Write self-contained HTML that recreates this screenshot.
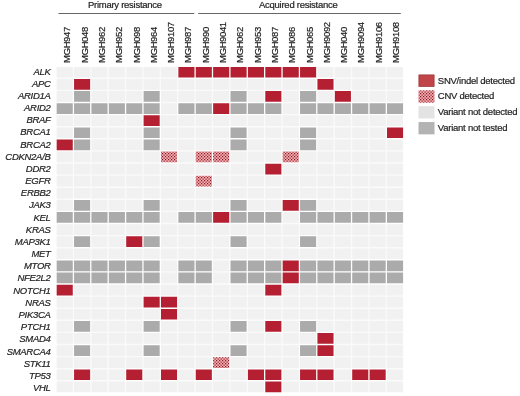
<!DOCTYPE html><html><head><meta charset="utf-8"><title>Figure</title><style>html,body{margin:0;padding:0;background:#fff}svg{display:block}text{font-family:"Liberation Sans",Arial,Helvetica,sans-serif;fill:#1e1e1e;letter-spacing:-0.24px;stroke:#1e1e1e;stroke-width:0.2}</style></head><body>
<svg width="520" height="396" viewBox="0 0 520 396">
<defs><pattern id="chk" width="3" height="3" patternUnits="userSpaceOnUse"><rect width="3" height="3" fill="#f6aeb0"/><g fill="#861a28"><rect x="0" y="0" width="1.22" height="1.22"/><rect x="1.5" y="1.5" width="1.22" height="1.22"/></g></pattern></defs>
<rect width="520" height="396" fill="#fff"/>
<rect x="56.67" y="66.90" width="346.40" height="325.30" fill="#fafafa"/>
<path d="M177.06 65.50h18.69v13.50h-18.69zM194.45 65.50h18.69v13.50h-18.69zM211.84 65.50h18.69v13.50h-18.69zM229.22 65.50h18.69v13.50h-18.69zM246.61 65.50h18.69v13.50h-18.69zM263.99 65.50h18.69v13.50h-18.69zM281.38 65.50h18.69v13.50h-18.69zM298.76 65.50h18.69v13.50h-18.69zM72.75 77.60h18.69v13.50h-18.69zM316.15 77.60h18.69v13.50h-18.69zM72.75 89.70h18.69v13.50h-18.69zM142.30 89.70h18.69v13.50h-18.69zM229.22 89.70h18.69v13.50h-18.69zM263.99 89.70h18.69v13.50h-18.69zM298.76 89.70h18.69v13.50h-18.69zM333.53 89.70h18.69v13.50h-18.69zM55.37 101.80h18.69v13.50h-18.69zM72.75 101.80h18.69v13.50h-18.69zM90.14 101.80h18.69v13.50h-18.69zM107.53 101.80h18.69v13.50h-18.69zM124.91 101.80h18.69v13.50h-18.69zM142.30 101.80h18.69v13.50h-18.69zM177.06 101.80h18.69v13.50h-18.69zM194.45 101.80h18.69v13.50h-18.69zM211.84 101.80h18.69v13.50h-18.69zM229.22 101.80h18.69v13.50h-18.69zM246.61 101.80h18.69v13.50h-18.69zM263.99 101.80h18.69v13.50h-18.69zM298.76 101.80h18.69v13.50h-18.69zM316.15 101.80h18.69v13.50h-18.69zM333.53 101.80h18.69v13.50h-18.69zM350.92 101.80h18.69v13.50h-18.69zM368.30 101.80h18.69v13.50h-18.69zM385.69 101.80h18.69v13.50h-18.69zM142.30 113.90h18.69v13.50h-18.69zM72.75 126.00h18.69v13.50h-18.69zM142.30 126.00h18.69v13.50h-18.69zM229.22 126.00h18.69v13.50h-18.69zM298.76 126.00h18.69v13.50h-18.69zM385.69 126.00h18.69v13.50h-18.69zM55.37 138.10h18.69v13.50h-18.69zM72.75 138.10h18.69v13.50h-18.69zM142.30 138.10h18.69v13.50h-18.69zM229.22 138.10h18.69v13.50h-18.69zM298.76 138.10h18.69v13.50h-18.69zM159.68 150.20h18.69v13.50h-18.69zM194.45 150.20h18.69v13.50h-18.69zM211.84 150.20h18.69v13.50h-18.69zM281.38 150.20h18.69v13.50h-18.69zM263.99 162.30h18.69v13.50h-18.69zM194.45 174.40h18.69v13.50h-18.69zM72.75 198.60h18.69v13.50h-18.69zM142.30 198.60h18.69v13.50h-18.69zM229.22 198.60h18.69v13.50h-18.69zM281.38 198.60h18.69v13.50h-18.69zM298.76 198.60h18.69v13.50h-18.69zM55.37 210.70h18.69v13.50h-18.69zM72.75 210.70h18.69v13.50h-18.69zM90.14 210.70h18.69v13.50h-18.69zM107.53 210.70h18.69v13.50h-18.69zM124.91 210.70h18.69v13.50h-18.69zM142.30 210.70h18.69v13.50h-18.69zM177.06 210.70h18.69v13.50h-18.69zM194.45 210.70h18.69v13.50h-18.69zM211.84 210.70h18.69v13.50h-18.69zM229.22 210.70h18.69v13.50h-18.69zM246.61 210.70h18.69v13.50h-18.69zM263.99 210.70h18.69v13.50h-18.69zM298.76 210.70h18.69v13.50h-18.69zM316.15 210.70h18.69v13.50h-18.69zM333.53 210.70h18.69v13.50h-18.69zM350.92 210.70h18.69v13.50h-18.69zM368.30 210.70h18.69v13.50h-18.69zM385.69 210.70h18.69v13.50h-18.69zM72.75 234.90h18.69v13.50h-18.69zM124.91 234.90h18.69v13.50h-18.69zM142.30 234.90h18.69v13.50h-18.69zM229.22 234.90h18.69v13.50h-18.69zM298.76 234.90h18.69v13.50h-18.69zM55.37 259.10h18.69v13.50h-18.69zM72.75 259.10h18.69v13.50h-18.69zM90.14 259.10h18.69v13.50h-18.69zM107.53 259.10h18.69v13.50h-18.69zM124.91 259.10h18.69v13.50h-18.69zM142.30 259.10h18.69v13.50h-18.69zM177.06 259.10h18.69v13.50h-18.69zM194.45 259.10h18.69v13.50h-18.69zM229.22 259.10h18.69v13.50h-18.69zM246.61 259.10h18.69v13.50h-18.69zM263.99 259.10h18.69v13.50h-18.69zM281.38 259.10h18.69v13.50h-18.69zM298.76 259.10h18.69v13.50h-18.69zM316.15 259.10h18.69v13.50h-18.69zM333.53 259.10h18.69v13.50h-18.69zM350.92 259.10h18.69v13.50h-18.69zM368.30 259.10h18.69v13.50h-18.69zM385.69 259.10h18.69v13.50h-18.69zM55.37 271.20h18.69v13.50h-18.69zM72.75 271.20h18.69v13.50h-18.69zM90.14 271.20h18.69v13.50h-18.69zM107.53 271.20h18.69v13.50h-18.69zM124.91 271.20h18.69v13.50h-18.69zM142.30 271.20h18.69v13.50h-18.69zM177.06 271.20h18.69v13.50h-18.69zM194.45 271.20h18.69v13.50h-18.69zM229.22 271.20h18.69v13.50h-18.69zM246.61 271.20h18.69v13.50h-18.69zM263.99 271.20h18.69v13.50h-18.69zM281.38 271.20h18.69v13.50h-18.69zM298.76 271.20h18.69v13.50h-18.69zM316.15 271.20h18.69v13.50h-18.69zM333.53 271.20h18.69v13.50h-18.69zM350.92 271.20h18.69v13.50h-18.69zM368.30 271.20h18.69v13.50h-18.69zM385.69 271.20h18.69v13.50h-18.69zM55.37 283.30h18.69v13.50h-18.69zM263.99 283.30h18.69v13.50h-18.69zM142.30 295.40h18.69v13.50h-18.69zM159.68 295.40h18.69v13.50h-18.69zM159.68 307.50h18.69v13.50h-18.69zM72.75 319.60h18.69v13.50h-18.69zM142.30 319.60h18.69v13.50h-18.69zM229.22 319.60h18.69v13.50h-18.69zM263.99 319.60h18.69v13.50h-18.69zM298.76 319.60h18.69v13.50h-18.69zM316.15 331.70h18.69v13.50h-18.69zM72.75 343.80h18.69v13.50h-18.69zM142.30 343.80h18.69v13.50h-18.69zM229.22 343.80h18.69v13.50h-18.69zM298.76 343.80h18.69v13.50h-18.69zM316.15 343.80h18.69v13.50h-18.69zM211.84 355.90h18.69v13.50h-18.69zM72.75 368.00h18.69v13.50h-18.69zM124.91 368.00h18.69v13.50h-18.69zM159.68 368.00h18.69v13.50h-18.69zM194.45 368.00h18.69v13.50h-18.69zM246.61 368.00h18.69v13.50h-18.69zM263.99 368.00h18.69v13.50h-18.69zM298.76 368.00h18.69v13.50h-18.69zM316.15 368.00h18.69v13.50h-18.69zM350.92 368.00h18.69v13.50h-18.69zM368.30 368.00h18.69v13.50h-18.69zM263.99 380.10h18.69v13.50h-18.69z" fill="#fff"/>
<path d="M56.67 66.90h16.09v10.70h-16.09zM74.06 66.90h16.09v10.70h-16.09zM91.44 66.90h16.09v10.70h-16.09zM108.83 66.90h16.09v10.70h-16.09zM126.21 66.90h16.09v10.70h-16.09zM143.60 66.90h16.09v10.70h-16.09zM160.98 66.90h16.09v10.70h-16.09zM317.44 66.90h16.09v10.70h-16.09zM334.83 66.90h16.09v10.70h-16.09zM352.21 66.90h16.09v10.70h-16.09zM369.60 66.90h16.09v10.70h-16.09zM386.99 66.90h16.09v10.70h-16.09zM56.67 79.00h16.09v10.70h-16.09zM91.44 79.00h16.09v10.70h-16.09zM108.83 79.00h16.09v10.70h-16.09zM126.21 79.00h16.09v10.70h-16.09zM143.60 79.00h16.09v10.70h-16.09zM160.98 79.00h16.09v10.70h-16.09zM178.37 79.00h16.09v10.70h-16.09zM195.75 79.00h16.09v10.70h-16.09zM213.14 79.00h16.09v10.70h-16.09zM230.52 79.00h16.09v10.70h-16.09zM247.91 79.00h16.09v10.70h-16.09zM265.29 79.00h16.09v10.70h-16.09zM282.68 79.00h16.09v10.70h-16.09zM300.06 79.00h16.09v10.70h-16.09zM334.83 79.00h16.09v10.70h-16.09zM352.21 79.00h16.09v10.70h-16.09zM369.60 79.00h16.09v10.70h-16.09zM386.99 79.00h16.09v10.70h-16.09zM56.67 91.10h16.09v10.70h-16.09zM91.44 91.10h16.09v10.70h-16.09zM108.83 91.10h16.09v10.70h-16.09zM126.21 91.10h16.09v10.70h-16.09zM160.98 91.10h16.09v10.70h-16.09zM178.37 91.10h16.09v10.70h-16.09zM195.75 91.10h16.09v10.70h-16.09zM213.14 91.10h16.09v10.70h-16.09zM247.91 91.10h16.09v10.70h-16.09zM282.68 91.10h16.09v10.70h-16.09zM317.44 91.10h16.09v10.70h-16.09zM352.21 91.10h16.09v10.70h-16.09zM369.60 91.10h16.09v10.70h-16.09zM386.99 91.10h16.09v10.70h-16.09zM160.98 103.20h16.09v10.70h-16.09zM282.68 103.20h16.09v10.70h-16.09zM56.67 115.30h16.09v10.70h-16.09zM74.06 115.30h16.09v10.70h-16.09zM91.44 115.30h16.09v10.70h-16.09zM108.83 115.30h16.09v10.70h-16.09zM126.21 115.30h16.09v10.70h-16.09zM160.98 115.30h16.09v10.70h-16.09zM178.37 115.30h16.09v10.70h-16.09zM195.75 115.30h16.09v10.70h-16.09zM213.14 115.30h16.09v10.70h-16.09zM230.52 115.30h16.09v10.70h-16.09zM247.91 115.30h16.09v10.70h-16.09zM265.29 115.30h16.09v10.70h-16.09zM282.68 115.30h16.09v10.70h-16.09zM300.06 115.30h16.09v10.70h-16.09zM317.44 115.30h16.09v10.70h-16.09zM334.83 115.30h16.09v10.70h-16.09zM352.21 115.30h16.09v10.70h-16.09zM369.60 115.30h16.09v10.70h-16.09zM386.99 115.30h16.09v10.70h-16.09zM56.67 127.40h16.09v10.70h-16.09zM91.44 127.40h16.09v10.70h-16.09zM108.83 127.40h16.09v10.70h-16.09zM126.21 127.40h16.09v10.70h-16.09zM160.98 127.40h16.09v10.70h-16.09zM178.37 127.40h16.09v10.70h-16.09zM195.75 127.40h16.09v10.70h-16.09zM213.14 127.40h16.09v10.70h-16.09zM247.91 127.40h16.09v10.70h-16.09zM265.29 127.40h16.09v10.70h-16.09zM282.68 127.40h16.09v10.70h-16.09zM317.44 127.40h16.09v10.70h-16.09zM334.83 127.40h16.09v10.70h-16.09zM352.21 127.40h16.09v10.70h-16.09zM369.60 127.40h16.09v10.70h-16.09zM91.44 139.50h16.09v10.70h-16.09zM108.83 139.50h16.09v10.70h-16.09zM126.21 139.50h16.09v10.70h-16.09zM160.98 139.50h16.09v10.70h-16.09zM178.37 139.50h16.09v10.70h-16.09zM195.75 139.50h16.09v10.70h-16.09zM213.14 139.50h16.09v10.70h-16.09zM247.91 139.50h16.09v10.70h-16.09zM265.29 139.50h16.09v10.70h-16.09zM282.68 139.50h16.09v10.70h-16.09zM317.44 139.50h16.09v10.70h-16.09zM334.83 139.50h16.09v10.70h-16.09zM352.21 139.50h16.09v10.70h-16.09zM369.60 139.50h16.09v10.70h-16.09zM386.99 139.50h16.09v10.70h-16.09zM56.67 151.60h16.09v10.70h-16.09zM74.06 151.60h16.09v10.70h-16.09zM91.44 151.60h16.09v10.70h-16.09zM108.83 151.60h16.09v10.70h-16.09zM126.21 151.60h16.09v10.70h-16.09zM143.60 151.60h16.09v10.70h-16.09zM178.37 151.60h16.09v10.70h-16.09zM230.52 151.60h16.09v10.70h-16.09zM247.91 151.60h16.09v10.70h-16.09zM265.29 151.60h16.09v10.70h-16.09zM300.06 151.60h16.09v10.70h-16.09zM317.44 151.60h16.09v10.70h-16.09zM334.83 151.60h16.09v10.70h-16.09zM352.21 151.60h16.09v10.70h-16.09zM369.60 151.60h16.09v10.70h-16.09zM386.99 151.60h16.09v10.70h-16.09zM56.67 163.70h16.09v10.70h-16.09zM74.06 163.70h16.09v10.70h-16.09zM91.44 163.70h16.09v10.70h-16.09zM108.83 163.70h16.09v10.70h-16.09zM126.21 163.70h16.09v10.70h-16.09zM143.60 163.70h16.09v10.70h-16.09zM160.98 163.70h16.09v10.70h-16.09zM178.37 163.70h16.09v10.70h-16.09zM195.75 163.70h16.09v10.70h-16.09zM213.14 163.70h16.09v10.70h-16.09zM230.52 163.70h16.09v10.70h-16.09zM247.91 163.70h16.09v10.70h-16.09zM282.68 163.70h16.09v10.70h-16.09zM300.06 163.70h16.09v10.70h-16.09zM317.44 163.70h16.09v10.70h-16.09zM334.83 163.70h16.09v10.70h-16.09zM352.21 163.70h16.09v10.70h-16.09zM369.60 163.70h16.09v10.70h-16.09zM386.99 163.70h16.09v10.70h-16.09zM56.67 175.80h16.09v10.70h-16.09zM74.06 175.80h16.09v10.70h-16.09zM91.44 175.80h16.09v10.70h-16.09zM108.83 175.80h16.09v10.70h-16.09zM126.21 175.80h16.09v10.70h-16.09zM143.60 175.80h16.09v10.70h-16.09zM160.98 175.80h16.09v10.70h-16.09zM178.37 175.80h16.09v10.70h-16.09zM213.14 175.80h16.09v10.70h-16.09zM230.52 175.80h16.09v10.70h-16.09zM247.91 175.80h16.09v10.70h-16.09zM265.29 175.80h16.09v10.70h-16.09zM282.68 175.80h16.09v10.70h-16.09zM300.06 175.80h16.09v10.70h-16.09zM317.44 175.80h16.09v10.70h-16.09zM334.83 175.80h16.09v10.70h-16.09zM352.21 175.80h16.09v10.70h-16.09zM369.60 175.80h16.09v10.70h-16.09zM386.99 175.80h16.09v10.70h-16.09zM56.67 187.90h16.09v10.70h-16.09zM74.06 187.90h16.09v10.70h-16.09zM91.44 187.90h16.09v10.70h-16.09zM108.83 187.90h16.09v10.70h-16.09zM126.21 187.90h16.09v10.70h-16.09zM143.60 187.90h16.09v10.70h-16.09zM160.98 187.90h16.09v10.70h-16.09zM178.37 187.90h16.09v10.70h-16.09zM195.75 187.90h16.09v10.70h-16.09zM213.14 187.90h16.09v10.70h-16.09zM230.52 187.90h16.09v10.70h-16.09zM247.91 187.90h16.09v10.70h-16.09zM265.29 187.90h16.09v10.70h-16.09zM282.68 187.90h16.09v10.70h-16.09zM300.06 187.90h16.09v10.70h-16.09zM317.44 187.90h16.09v10.70h-16.09zM334.83 187.90h16.09v10.70h-16.09zM352.21 187.90h16.09v10.70h-16.09zM369.60 187.90h16.09v10.70h-16.09zM386.99 187.90h16.09v10.70h-16.09zM56.67 200.00h16.09v10.70h-16.09zM91.44 200.00h16.09v10.70h-16.09zM108.83 200.00h16.09v10.70h-16.09zM126.21 200.00h16.09v10.70h-16.09zM160.98 200.00h16.09v10.70h-16.09zM178.37 200.00h16.09v10.70h-16.09zM195.75 200.00h16.09v10.70h-16.09zM213.14 200.00h16.09v10.70h-16.09zM247.91 200.00h16.09v10.70h-16.09zM265.29 200.00h16.09v10.70h-16.09zM317.44 200.00h16.09v10.70h-16.09zM334.83 200.00h16.09v10.70h-16.09zM352.21 200.00h16.09v10.70h-16.09zM369.60 200.00h16.09v10.70h-16.09zM386.99 200.00h16.09v10.70h-16.09zM160.98 212.10h16.09v10.70h-16.09zM282.68 212.10h16.09v10.70h-16.09zM56.67 224.20h16.09v10.70h-16.09zM74.06 224.20h16.09v10.70h-16.09zM91.44 224.20h16.09v10.70h-16.09zM108.83 224.20h16.09v10.70h-16.09zM126.21 224.20h16.09v10.70h-16.09zM143.60 224.20h16.09v10.70h-16.09zM160.98 224.20h16.09v10.70h-16.09zM178.37 224.20h16.09v10.70h-16.09zM195.75 224.20h16.09v10.70h-16.09zM213.14 224.20h16.09v10.70h-16.09zM230.52 224.20h16.09v10.70h-16.09zM247.91 224.20h16.09v10.70h-16.09zM265.29 224.20h16.09v10.70h-16.09zM282.68 224.20h16.09v10.70h-16.09zM300.06 224.20h16.09v10.70h-16.09zM317.44 224.20h16.09v10.70h-16.09zM334.83 224.20h16.09v10.70h-16.09zM352.21 224.20h16.09v10.70h-16.09zM369.60 224.20h16.09v10.70h-16.09zM386.99 224.20h16.09v10.70h-16.09zM56.67 236.30h16.09v10.70h-16.09zM91.44 236.30h16.09v10.70h-16.09zM108.83 236.30h16.09v10.70h-16.09zM160.98 236.30h16.09v10.70h-16.09zM178.37 236.30h16.09v10.70h-16.09zM195.75 236.30h16.09v10.70h-16.09zM213.14 236.30h16.09v10.70h-16.09zM247.91 236.30h16.09v10.70h-16.09zM265.29 236.30h16.09v10.70h-16.09zM282.68 236.30h16.09v10.70h-16.09zM317.44 236.30h16.09v10.70h-16.09zM334.83 236.30h16.09v10.70h-16.09zM352.21 236.30h16.09v10.70h-16.09zM369.60 236.30h16.09v10.70h-16.09zM386.99 236.30h16.09v10.70h-16.09zM56.67 248.40h16.09v10.70h-16.09zM74.06 248.40h16.09v10.70h-16.09zM91.44 248.40h16.09v10.70h-16.09zM108.83 248.40h16.09v10.70h-16.09zM126.21 248.40h16.09v10.70h-16.09zM143.60 248.40h16.09v10.70h-16.09zM160.98 248.40h16.09v10.70h-16.09zM178.37 248.40h16.09v10.70h-16.09zM195.75 248.40h16.09v10.70h-16.09zM213.14 248.40h16.09v10.70h-16.09zM230.52 248.40h16.09v10.70h-16.09zM247.91 248.40h16.09v10.70h-16.09zM265.29 248.40h16.09v10.70h-16.09zM282.68 248.40h16.09v10.70h-16.09zM300.06 248.40h16.09v10.70h-16.09zM317.44 248.40h16.09v10.70h-16.09zM334.83 248.40h16.09v10.70h-16.09zM352.21 248.40h16.09v10.70h-16.09zM369.60 248.40h16.09v10.70h-16.09zM386.99 248.40h16.09v10.70h-16.09zM160.98 260.50h16.09v10.70h-16.09zM213.14 260.50h16.09v10.70h-16.09zM160.98 272.60h16.09v10.70h-16.09zM213.14 272.60h16.09v10.70h-16.09zM74.06 284.70h16.09v10.70h-16.09zM91.44 284.70h16.09v10.70h-16.09zM108.83 284.70h16.09v10.70h-16.09zM126.21 284.70h16.09v10.70h-16.09zM143.60 284.70h16.09v10.70h-16.09zM160.98 284.70h16.09v10.70h-16.09zM178.37 284.70h16.09v10.70h-16.09zM195.75 284.70h16.09v10.70h-16.09zM213.14 284.70h16.09v10.70h-16.09zM230.52 284.70h16.09v10.70h-16.09zM247.91 284.70h16.09v10.70h-16.09zM282.68 284.70h16.09v10.70h-16.09zM300.06 284.70h16.09v10.70h-16.09zM317.44 284.70h16.09v10.70h-16.09zM334.83 284.70h16.09v10.70h-16.09zM352.21 284.70h16.09v10.70h-16.09zM369.60 284.70h16.09v10.70h-16.09zM386.99 284.70h16.09v10.70h-16.09zM56.67 296.80h16.09v10.70h-16.09zM74.06 296.80h16.09v10.70h-16.09zM91.44 296.80h16.09v10.70h-16.09zM108.83 296.80h16.09v10.70h-16.09zM126.21 296.80h16.09v10.70h-16.09zM178.37 296.80h16.09v10.70h-16.09zM195.75 296.80h16.09v10.70h-16.09zM213.14 296.80h16.09v10.70h-16.09zM230.52 296.80h16.09v10.70h-16.09zM247.91 296.80h16.09v10.70h-16.09zM265.29 296.80h16.09v10.70h-16.09zM282.68 296.80h16.09v10.70h-16.09zM300.06 296.80h16.09v10.70h-16.09zM317.44 296.80h16.09v10.70h-16.09zM334.83 296.80h16.09v10.70h-16.09zM352.21 296.80h16.09v10.70h-16.09zM369.60 296.80h16.09v10.70h-16.09zM386.99 296.80h16.09v10.70h-16.09zM56.67 308.90h16.09v10.70h-16.09zM74.06 308.90h16.09v10.70h-16.09zM91.44 308.90h16.09v10.70h-16.09zM108.83 308.90h16.09v10.70h-16.09zM126.21 308.90h16.09v10.70h-16.09zM143.60 308.90h16.09v10.70h-16.09zM178.37 308.90h16.09v10.70h-16.09zM195.75 308.90h16.09v10.70h-16.09zM213.14 308.90h16.09v10.70h-16.09zM230.52 308.90h16.09v10.70h-16.09zM247.91 308.90h16.09v10.70h-16.09zM265.29 308.90h16.09v10.70h-16.09zM282.68 308.90h16.09v10.70h-16.09zM300.06 308.90h16.09v10.70h-16.09zM317.44 308.90h16.09v10.70h-16.09zM334.83 308.90h16.09v10.70h-16.09zM352.21 308.90h16.09v10.70h-16.09zM369.60 308.90h16.09v10.70h-16.09zM386.99 308.90h16.09v10.70h-16.09zM56.67 321.00h16.09v10.70h-16.09zM91.44 321.00h16.09v10.70h-16.09zM108.83 321.00h16.09v10.70h-16.09zM126.21 321.00h16.09v10.70h-16.09zM160.98 321.00h16.09v10.70h-16.09zM178.37 321.00h16.09v10.70h-16.09zM195.75 321.00h16.09v10.70h-16.09zM213.14 321.00h16.09v10.70h-16.09zM247.91 321.00h16.09v10.70h-16.09zM282.68 321.00h16.09v10.70h-16.09zM317.44 321.00h16.09v10.70h-16.09zM334.83 321.00h16.09v10.70h-16.09zM352.21 321.00h16.09v10.70h-16.09zM369.60 321.00h16.09v10.70h-16.09zM386.99 321.00h16.09v10.70h-16.09zM56.67 333.10h16.09v10.70h-16.09zM74.06 333.10h16.09v10.70h-16.09zM91.44 333.10h16.09v10.70h-16.09zM108.83 333.10h16.09v10.70h-16.09zM126.21 333.10h16.09v10.70h-16.09zM143.60 333.10h16.09v10.70h-16.09zM160.98 333.10h16.09v10.70h-16.09zM178.37 333.10h16.09v10.70h-16.09zM195.75 333.10h16.09v10.70h-16.09zM213.14 333.10h16.09v10.70h-16.09zM230.52 333.10h16.09v10.70h-16.09zM247.91 333.10h16.09v10.70h-16.09zM265.29 333.10h16.09v10.70h-16.09zM282.68 333.10h16.09v10.70h-16.09zM300.06 333.10h16.09v10.70h-16.09zM334.83 333.10h16.09v10.70h-16.09zM352.21 333.10h16.09v10.70h-16.09zM369.60 333.10h16.09v10.70h-16.09zM386.99 333.10h16.09v10.70h-16.09zM56.67 345.20h16.09v10.70h-16.09zM91.44 345.20h16.09v10.70h-16.09zM108.83 345.20h16.09v10.70h-16.09zM126.21 345.20h16.09v10.70h-16.09zM160.98 345.20h16.09v10.70h-16.09zM178.37 345.20h16.09v10.70h-16.09zM195.75 345.20h16.09v10.70h-16.09zM213.14 345.20h16.09v10.70h-16.09zM247.91 345.20h16.09v10.70h-16.09zM265.29 345.20h16.09v10.70h-16.09zM282.68 345.20h16.09v10.70h-16.09zM334.83 345.20h16.09v10.70h-16.09zM352.21 345.20h16.09v10.70h-16.09zM369.60 345.20h16.09v10.70h-16.09zM386.99 345.20h16.09v10.70h-16.09zM56.67 357.30h16.09v10.70h-16.09zM74.06 357.30h16.09v10.70h-16.09zM91.44 357.30h16.09v10.70h-16.09zM108.83 357.30h16.09v10.70h-16.09zM126.21 357.30h16.09v10.70h-16.09zM143.60 357.30h16.09v10.70h-16.09zM160.98 357.30h16.09v10.70h-16.09zM178.37 357.30h16.09v10.70h-16.09zM195.75 357.30h16.09v10.70h-16.09zM230.52 357.30h16.09v10.70h-16.09zM247.91 357.30h16.09v10.70h-16.09zM265.29 357.30h16.09v10.70h-16.09zM282.68 357.30h16.09v10.70h-16.09zM300.06 357.30h16.09v10.70h-16.09zM317.44 357.30h16.09v10.70h-16.09zM334.83 357.30h16.09v10.70h-16.09zM352.21 357.30h16.09v10.70h-16.09zM369.60 357.30h16.09v10.70h-16.09zM386.99 357.30h16.09v10.70h-16.09zM56.67 369.40h16.09v10.70h-16.09zM91.44 369.40h16.09v10.70h-16.09zM108.83 369.40h16.09v10.70h-16.09zM143.60 369.40h16.09v10.70h-16.09zM178.37 369.40h16.09v10.70h-16.09zM213.14 369.40h16.09v10.70h-16.09zM230.52 369.40h16.09v10.70h-16.09zM282.68 369.40h16.09v10.70h-16.09zM334.83 369.40h16.09v10.70h-16.09zM386.99 369.40h16.09v10.70h-16.09zM56.67 381.50h16.09v10.70h-16.09zM74.06 381.50h16.09v10.70h-16.09zM91.44 381.50h16.09v10.70h-16.09zM108.83 381.50h16.09v10.70h-16.09zM126.21 381.50h16.09v10.70h-16.09zM143.60 381.50h16.09v10.70h-16.09zM160.98 381.50h16.09v10.70h-16.09zM178.37 381.50h16.09v10.70h-16.09zM195.75 381.50h16.09v10.70h-16.09zM213.14 381.50h16.09v10.70h-16.09zM230.52 381.50h16.09v10.70h-16.09zM247.91 381.50h16.09v10.70h-16.09zM282.68 381.50h16.09v10.70h-16.09zM300.06 381.50h16.09v10.70h-16.09zM317.44 381.50h16.09v10.70h-16.09zM334.83 381.50h16.09v10.70h-16.09zM352.21 381.50h16.09v10.70h-16.09zM369.60 381.50h16.09v10.70h-16.09zM386.99 381.50h16.09v10.70h-16.09z" fill="#f1f1f1"/>
<path d="M74.06 91.10h16.09v10.70h-16.09zM143.60 91.10h16.09v10.70h-16.09zM230.52 91.10h16.09v10.70h-16.09zM300.06 91.10h16.09v10.70h-16.09zM56.67 103.20h16.09v10.70h-16.09zM74.06 103.20h16.09v10.70h-16.09zM91.44 103.20h16.09v10.70h-16.09zM108.83 103.20h16.09v10.70h-16.09zM126.21 103.20h16.09v10.70h-16.09zM143.60 103.20h16.09v10.70h-16.09zM178.37 103.20h16.09v10.70h-16.09zM195.75 103.20h16.09v10.70h-16.09zM230.52 103.20h16.09v10.70h-16.09zM247.91 103.20h16.09v10.70h-16.09zM265.29 103.20h16.09v10.70h-16.09zM300.06 103.20h16.09v10.70h-16.09zM317.44 103.20h16.09v10.70h-16.09zM334.83 103.20h16.09v10.70h-16.09zM352.21 103.20h16.09v10.70h-16.09zM369.60 103.20h16.09v10.70h-16.09zM386.99 103.20h16.09v10.70h-16.09zM74.06 127.40h16.09v10.70h-16.09zM143.60 127.40h16.09v10.70h-16.09zM230.52 127.40h16.09v10.70h-16.09zM300.06 127.40h16.09v10.70h-16.09zM74.06 139.50h16.09v10.70h-16.09zM143.60 139.50h16.09v10.70h-16.09zM230.52 139.50h16.09v10.70h-16.09zM300.06 139.50h16.09v10.70h-16.09zM74.06 200.00h16.09v10.70h-16.09zM143.60 200.00h16.09v10.70h-16.09zM230.52 200.00h16.09v10.70h-16.09zM300.06 200.00h16.09v10.70h-16.09zM56.67 212.10h16.09v10.70h-16.09zM74.06 212.10h16.09v10.70h-16.09zM91.44 212.10h16.09v10.70h-16.09zM108.83 212.10h16.09v10.70h-16.09zM126.21 212.10h16.09v10.70h-16.09zM143.60 212.10h16.09v10.70h-16.09zM178.37 212.10h16.09v10.70h-16.09zM195.75 212.10h16.09v10.70h-16.09zM230.52 212.10h16.09v10.70h-16.09zM247.91 212.10h16.09v10.70h-16.09zM265.29 212.10h16.09v10.70h-16.09zM300.06 212.10h16.09v10.70h-16.09zM317.44 212.10h16.09v10.70h-16.09zM334.83 212.10h16.09v10.70h-16.09zM352.21 212.10h16.09v10.70h-16.09zM369.60 212.10h16.09v10.70h-16.09zM386.99 212.10h16.09v10.70h-16.09zM74.06 236.30h16.09v10.70h-16.09zM143.60 236.30h16.09v10.70h-16.09zM230.52 236.30h16.09v10.70h-16.09zM300.06 236.30h16.09v10.70h-16.09zM56.67 260.50h16.09v10.70h-16.09zM74.06 260.50h16.09v10.70h-16.09zM91.44 260.50h16.09v10.70h-16.09zM108.83 260.50h16.09v10.70h-16.09zM126.21 260.50h16.09v10.70h-16.09zM143.60 260.50h16.09v10.70h-16.09zM178.37 260.50h16.09v10.70h-16.09zM195.75 260.50h16.09v10.70h-16.09zM230.52 260.50h16.09v10.70h-16.09zM247.91 260.50h16.09v10.70h-16.09zM265.29 260.50h16.09v10.70h-16.09zM300.06 260.50h16.09v10.70h-16.09zM317.44 260.50h16.09v10.70h-16.09zM334.83 260.50h16.09v10.70h-16.09zM352.21 260.50h16.09v10.70h-16.09zM369.60 260.50h16.09v10.70h-16.09zM386.99 260.50h16.09v10.70h-16.09zM56.67 272.60h16.09v10.70h-16.09zM74.06 272.60h16.09v10.70h-16.09zM91.44 272.60h16.09v10.70h-16.09zM108.83 272.60h16.09v10.70h-16.09zM126.21 272.60h16.09v10.70h-16.09zM143.60 272.60h16.09v10.70h-16.09zM178.37 272.60h16.09v10.70h-16.09zM195.75 272.60h16.09v10.70h-16.09zM230.52 272.60h16.09v10.70h-16.09zM247.91 272.60h16.09v10.70h-16.09zM265.29 272.60h16.09v10.70h-16.09zM300.06 272.60h16.09v10.70h-16.09zM317.44 272.60h16.09v10.70h-16.09zM334.83 272.60h16.09v10.70h-16.09zM352.21 272.60h16.09v10.70h-16.09zM369.60 272.60h16.09v10.70h-16.09zM386.99 272.60h16.09v10.70h-16.09zM74.06 321.00h16.09v10.70h-16.09zM143.60 321.00h16.09v10.70h-16.09zM230.52 321.00h16.09v10.70h-16.09zM300.06 321.00h16.09v10.70h-16.09zM74.06 345.20h16.09v10.70h-16.09zM143.60 345.20h16.09v10.70h-16.09zM230.52 345.20h16.09v10.70h-16.09zM300.06 345.20h16.09v10.70h-16.09z" fill="#ababab"/>
<path d="M178.37 66.90h16.09v10.70h-16.09zM195.75 66.90h16.09v10.70h-16.09zM213.14 66.90h16.09v10.70h-16.09zM230.52 66.90h16.09v10.70h-16.09zM247.91 66.90h16.09v10.70h-16.09zM265.29 66.90h16.09v10.70h-16.09zM282.68 66.90h16.09v10.70h-16.09zM300.06 66.90h16.09v10.70h-16.09zM74.06 79.00h16.09v10.70h-16.09zM317.44 79.00h16.09v10.70h-16.09zM265.29 91.10h16.09v10.70h-16.09zM334.83 91.10h16.09v10.70h-16.09zM213.14 103.20h16.09v10.70h-16.09zM143.60 115.30h16.09v10.70h-16.09zM386.99 127.40h16.09v10.70h-16.09zM56.67 139.50h16.09v10.70h-16.09zM265.29 163.70h16.09v10.70h-16.09zM282.68 200.00h16.09v10.70h-16.09zM213.14 212.10h16.09v10.70h-16.09zM126.21 236.30h16.09v10.70h-16.09zM282.68 260.50h16.09v10.70h-16.09zM282.68 272.60h16.09v10.70h-16.09zM56.67 284.70h16.09v10.70h-16.09zM265.29 284.70h16.09v10.70h-16.09zM143.60 296.80h16.09v10.70h-16.09zM160.98 296.80h16.09v10.70h-16.09zM160.98 308.90h16.09v10.70h-16.09zM265.29 321.00h16.09v10.70h-16.09zM317.44 333.10h16.09v10.70h-16.09zM317.44 345.20h16.09v10.70h-16.09zM74.06 369.40h16.09v10.70h-16.09zM126.21 369.40h16.09v10.70h-16.09zM160.98 369.40h16.09v10.70h-16.09zM195.75 369.40h16.09v10.70h-16.09zM247.91 369.40h16.09v10.70h-16.09zM265.29 369.40h16.09v10.70h-16.09zM300.06 369.40h16.09v10.70h-16.09zM317.44 369.40h16.09v10.70h-16.09zM352.21 369.40h16.09v10.70h-16.09zM369.60 369.40h16.09v10.70h-16.09zM265.29 381.50h16.09v10.70h-16.09z" fill="#b41f32"/>
<path d="M160.98 151.60h16.09v10.70h-16.09zM195.75 151.60h16.09v10.70h-16.09zM213.14 151.60h16.09v10.70h-16.09zM282.68 151.60h16.09v10.70h-16.09zM195.75 175.80h16.09v10.70h-16.09zM213.14 357.30h16.09v10.70h-16.09z" fill="url(#chk)"/>
<text x="50.6" y="74.60" font-size="9.5" font-style="italic" text-anchor="end" style="letter-spacing:-0.28px">ALK</text>
<text x="50.6" y="86.77" font-size="9.5" font-style="italic" text-anchor="end" style="letter-spacing:-0.28px">APC</text>
<text x="50.6" y="98.94" font-size="9.5" font-style="italic" text-anchor="end" style="letter-spacing:-0.28px">ARID1A</text>
<text x="50.6" y="111.11" font-size="9.5" font-style="italic" text-anchor="end" style="letter-spacing:-0.28px">ARID2</text>
<text x="50.6" y="123.28" font-size="9.5" font-style="italic" text-anchor="end" style="letter-spacing:-0.28px">BRAF</text>
<text x="50.6" y="135.45" font-size="9.5" font-style="italic" text-anchor="end" style="letter-spacing:-0.28px">BRCA1</text>
<text x="50.6" y="147.62" font-size="9.5" font-style="italic" text-anchor="end" style="letter-spacing:-0.28px">BRCA2</text>
<text x="50.6" y="159.79" font-size="9.5" font-style="italic" text-anchor="end" style="letter-spacing:-0.28px">CDKN2A/B</text>
<text x="50.6" y="171.96" font-size="9.5" font-style="italic" text-anchor="end" style="letter-spacing:-0.28px">DDR2</text>
<text x="50.6" y="184.13" font-size="9.5" font-style="italic" text-anchor="end" style="letter-spacing:-0.28px">EGFR</text>
<text x="50.6" y="196.30" font-size="9.5" font-style="italic" text-anchor="end" style="letter-spacing:-0.28px">ERBB2</text>
<text x="50.6" y="208.47" font-size="9.5" font-style="italic" text-anchor="end" style="letter-spacing:-0.28px">JAK3</text>
<text x="50.6" y="220.64" font-size="9.5" font-style="italic" text-anchor="end" style="letter-spacing:-0.28px">KEL</text>
<text x="50.6" y="232.81" font-size="9.5" font-style="italic" text-anchor="end" style="letter-spacing:-0.28px">KRAS</text>
<text x="50.6" y="244.98" font-size="9.5" font-style="italic" text-anchor="end" style="letter-spacing:-0.28px">MAP3K1</text>
<text x="50.6" y="257.15" font-size="9.5" font-style="italic" text-anchor="end" style="letter-spacing:-0.28px">MET</text>
<text x="50.6" y="269.32" font-size="9.5" font-style="italic" text-anchor="end" style="letter-spacing:-0.28px">MTOR</text>
<text x="50.6" y="281.49" font-size="9.5" font-style="italic" text-anchor="end" style="letter-spacing:-0.28px">NFE2L2</text>
<text x="50.6" y="293.66" font-size="9.5" font-style="italic" text-anchor="end" style="letter-spacing:-0.28px">NOTCH1</text>
<text x="50.6" y="305.83" font-size="9.5" font-style="italic" text-anchor="end" style="letter-spacing:-0.28px">NRAS</text>
<text x="50.6" y="318.00" font-size="9.5" font-style="italic" text-anchor="end" style="letter-spacing:-0.28px">PIK3CA</text>
<text x="50.6" y="330.17" font-size="9.5" font-style="italic" text-anchor="end" style="letter-spacing:-0.28px">PTCH1</text>
<text x="50.6" y="342.34" font-size="9.5" font-style="italic" text-anchor="end" style="letter-spacing:-0.28px">SMAD4</text>
<text x="50.6" y="354.51" font-size="9.5" font-style="italic" text-anchor="end" style="letter-spacing:-0.28px">SMARCA4</text>
<text x="50.6" y="366.68" font-size="9.5" font-style="italic" text-anchor="end" style="letter-spacing:-0.28px">STK11</text>
<text x="50.6" y="378.85" font-size="9.5" font-style="italic" text-anchor="end" style="letter-spacing:-0.28px">TP53</text>
<text x="50.6" y="391.02" font-size="9.5" font-style="italic" text-anchor="end" style="letter-spacing:-0.28px">VHL</text>
<text transform="translate(70.30 62.9) rotate(-90)" font-size="9.5" style="letter-spacing:-0.38px">MGH947</text>
<text transform="translate(87.60 62.9) rotate(-90)" font-size="9.5" style="letter-spacing:-0.38px">MGH048</text>
<text transform="translate(104.90 62.9) rotate(-90)" font-size="9.5" style="letter-spacing:-0.38px">MGH962</text>
<text transform="translate(122.20 62.9) rotate(-90)" font-size="9.5" style="letter-spacing:-0.38px">MGH952</text>
<text transform="translate(139.50 62.9) rotate(-90)" font-size="9.5" style="letter-spacing:-0.38px">MGH098</text>
<text transform="translate(156.80 62.9) rotate(-90)" font-size="9.5" style="letter-spacing:-0.38px">MGH964</text>
<text transform="translate(174.10 62.9) rotate(-90)" font-size="9.5" style="letter-spacing:-0.38px">MGH9107</text>
<text transform="translate(191.40 62.9) rotate(-90)" font-size="9.5" style="letter-spacing:-0.38px">MGH987</text>
<text transform="translate(208.70 62.9) rotate(-90)" font-size="9.5" style="letter-spacing:-0.38px">MGH990</text>
<text transform="translate(226.00 62.9) rotate(-90)" font-size="9.5" style="letter-spacing:-0.38px">MGH9041</text>
<text transform="translate(243.30 62.9) rotate(-90)" font-size="9.5" style="letter-spacing:-0.38px">MGH062</text>
<text transform="translate(260.60 62.9) rotate(-90)" font-size="9.5" style="letter-spacing:-0.38px">MGH953</text>
<text transform="translate(277.90 62.9) rotate(-90)" font-size="9.5" style="letter-spacing:-0.38px">MGH087</text>
<text transform="translate(295.20 62.9) rotate(-90)" font-size="9.5" style="letter-spacing:-0.38px">MGH086</text>
<text transform="translate(312.50 62.9) rotate(-90)" font-size="9.5" style="letter-spacing:-0.38px">MGH065</text>
<text transform="translate(329.80 62.9) rotate(-90)" font-size="9.5" style="letter-spacing:-0.38px">MGH9092</text>
<text transform="translate(347.10 62.9) rotate(-90)" font-size="9.5" style="letter-spacing:-0.38px">MGH040</text>
<text transform="translate(364.40 62.9) rotate(-90)" font-size="9.5" style="letter-spacing:-0.38px">MGH9094</text>
<text transform="translate(381.70 62.9) rotate(-90)" font-size="9.5" style="letter-spacing:-0.38px">MGH9106</text>
<text transform="translate(399.00 62.9) rotate(-90)" font-size="9.5" style="letter-spacing:-0.38px">MGH9108</text>
<text x="124.9" y="7.9" font-size="9.5" text-anchor="middle" style="letter-spacing:-0.26px">Primary resistance</text>
<text x="298.25" y="7.9" font-size="9.5" text-anchor="middle" style="letter-spacing:-0.26px">Acquired resistance</text>
<path d="M58.5 13.5H194.3M198.2 13.5H400.8" stroke="#666" stroke-width="1" fill="none"/>
<rect x="418.9" y="74.90" width="15.2" height="11.5" fill="#bf4549" stroke="#a23a3a" stroke-width="0.8"/>
<text x="437.8" y="83.60" font-size="9.5">SNV/indel detected</text>
<rect x="418.5" y="90.35" width="16" height="12.3" fill="url(#chk)"/>
<text x="437.8" y="99.45" font-size="9.5">CNV detected</text>
<rect x="418.5" y="106.20" width="16" height="12.3" fill="#e3e3e3"/>
<text x="437.8" y="115.30" font-size="9.5">Variant not detected</text>
<rect x="418.5" y="122.05" width="16" height="12.3" fill="#b3b3b3"/>
<text x="437.8" y="131.15" font-size="9.5">Variant not tested</text>
</svg></body></html>
